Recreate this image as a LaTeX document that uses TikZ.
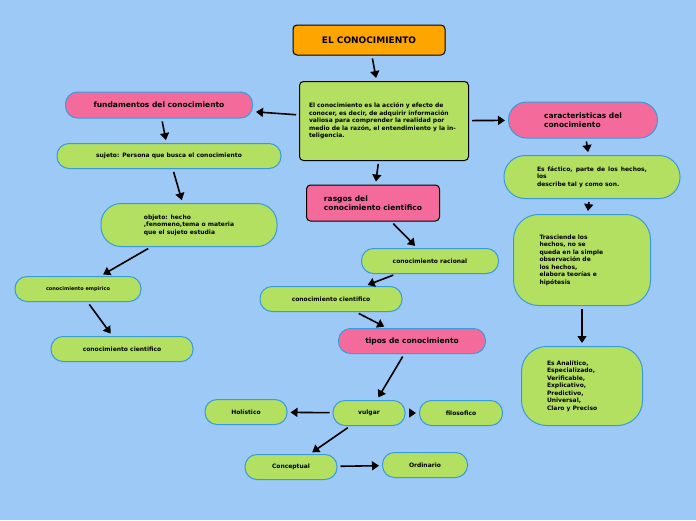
\documentclass[tikz,border=0pt]{standalone}
\usepackage{fontspec}
\setmainfont{DejaVu Sans}
\usetikzlibrary{arrows.meta}
\definecolor{bg}{HTML}{9CC9F5}
\definecolor{gr}{HTML}{B3E061}
\definecolor{pk}{HTML}{F46B9B}
\definecolor{og}{HTML}{FFA500}
\definecolor{bl}{HTML}{3A9BDC}
\begin{document}
\begin{tikzpicture}[x=1pt,y=-1pt,
 box/.style={draw=bl,line width=1pt,rounded corners=12pt,font=\bfseries\fontsize{6}{7.5}\selectfont,align=center,inner sep=2pt},
 g/.style={box,fill=gr},
 p/.style={box,fill=pk,font=\bfseries\fontsize{7.5}{8.5}\selectfont},
 k/.style={draw=black,rounded corners=4pt,line width=1pt},
 ar/.style={-{Triangle[width=9pt,length=7pt]},line width=1.6pt,shorten <=3pt,shorten >=3pt}]
\fill[bg] (0,0) rectangle (696,520);
\useasboundingbox (0,0) rectangle (696,520);
\node[box,k,fill=og,minimum width=152pt,minimum height=30pt,font=\bfseries\fontsize{9}{10}\selectfont] (t) at (369,40) {EL CONOCIMIENTO};
\node[g,k,minimum width=169pt,minimum height=79pt,align=left,text width=150pt] (d) at (384,121) {El conocimiento es la acción y efecto de conocer, es decir, de adquirir información valiosa para comprender la realidad por medio de la razón, el entendimiento y la inteligencia.};
\node[p,minimum width=187pt,minimum height=26pt] (f) at (159,105) {fundamentos del conocimiento};
\node[g,minimum width=224pt,minimum height=25pt] (s) at (169,156) {sujeto: Persona que busca el conocimiento};
\node[g,minimum width=176pt,minimum height=43pt,rounded corners=20pt,align=left] (o) at (189,225) {objeto: hecho\\,fenomeno,tema o materia\\que el sujeto estudia};
\node[g,minimum width=126pt,minimum height=25pt,font=\bfseries\fontsize{5}{6}\selectfont] (e) at (78,289) {conocimiento empirico};
\node[g,minimum width=142pt,minimum height=25pt] (c1) at (122,349) {conocimiento cientifico};
\node[p,k,minimum width=133pt,minimum height=36pt,align=left] (r) at (373,203) {rasgos del\\conocimiento cientifico};
\node[g,minimum width=137pt,minimum height=25pt] (ra) at (430,261) {conocimiento racional};
\node[g,minimum width=142pt,minimum height=25pt] (c2) at (331,299) {conocimiento cientifico};
\node[p,minimum width=147pt,minimum height=25pt] (tp) at (412,341) {tipos de conocimiento};
\node[g,minimum width=72pt,minimum height=25pt] (v) at (369,413) {vulgar};
\node[g,minimum width=82pt,minimum height=25pt] (h) at (246,412) {Holístico};
\node[g,minimum width=83pt,minimum height=25pt] (fi) at (461,413) {filosofico};
\node[g,minimum width=92pt,minimum height=25pt] (co) at (291,467) {Conceptual};
\node[g,minimum width=85pt,minimum height=25pt] (or) at (425,465) {Ordinario};
\node[p,minimum width=149pt,minimum height=36pt,rounded corners=18pt,align=left] (ca) at (583,120) {caracteristicas del\\conocimiento};
\node[g,minimum width=176pt,minimum height=43pt,rounded corners=21pt,align=justify,text width=110pt] (ef) at (592,177) {Es fáctico, parte de los hechos, los\\describe tal y como son.};
\node[g,minimum width=137pt,minimum height=91pt,rounded corners=25pt,align=left,text width=85pt] (tr) at (582,260) {Trasciende los\\hechos, no se\\queda en la simple\\observación de\\los hechos,\\elabora teorías e\\hipótesis};
\node[g,minimum width=121pt,minimum height=79pt,rounded corners=25pt,align=left,text width=70pt] (ea) at (582,386) {Es Analítico,\\Especializado,\\Verificable,\\Explicativo,\\Predictivo,\\Universal,\\Claro y Preciso};
\draw[ar] (t) -- (d);
\draw[ar] (d) -- (f);
\draw[ar] (d) -- (ca);
\draw[ar] (d) -- (r);
\draw[ar] (f) -- (s);
\draw[ar] (s) -- (o);
\draw[ar] (o) -- (e);
\draw[ar] (e) -- (c1);
\draw[ar] (r) -- (ra);
\draw[ar] (ra) -- (c2);
\draw[ar] (c2) -- (tp);
\draw[ar] (tp) -- (v);
\draw[ar] (v) -- (h);
\draw[ar] (v) -- (fi);
\draw[ar] (v) -- (co);
\draw[ar] (co) -- (or);
\draw[ar] (ca) -- (ef);
\draw[ar] (ef) -- (tr);
\draw[ar] (tr) -- (ea);
\end{tikzpicture}
\end{document}
